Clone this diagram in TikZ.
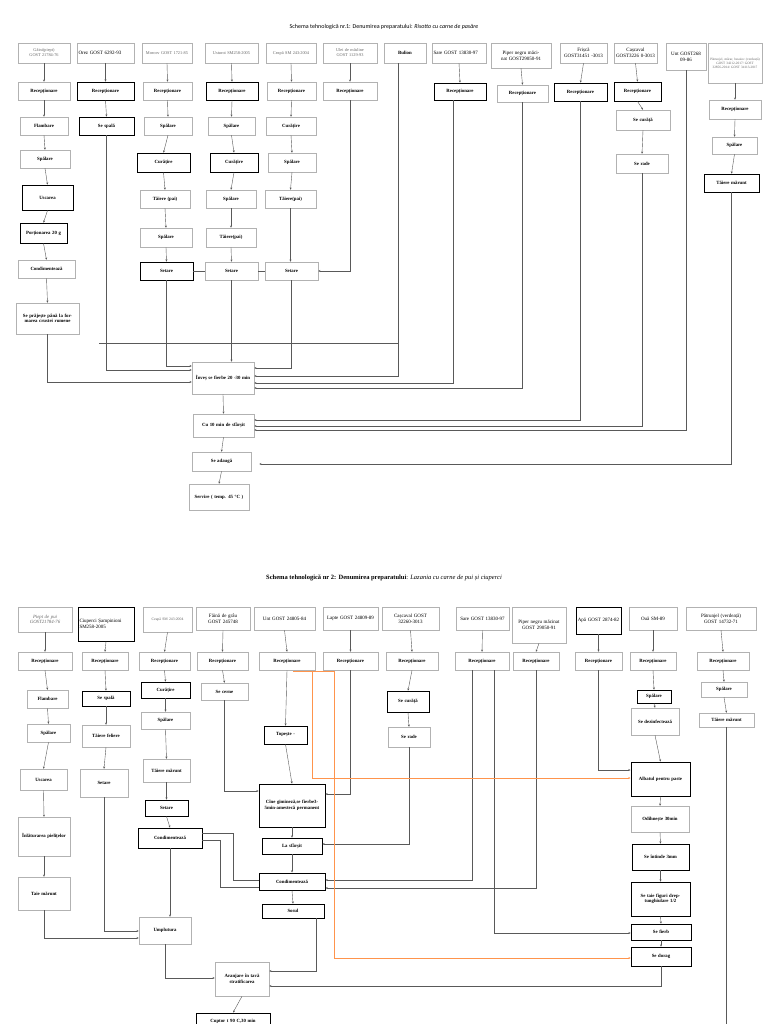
\documentclass[tikz,border=0pt]{standalone}
\usepackage{fontspec}
\setmainfont{Liberation Serif}
\newfontfamily\carl{Carlito}
\usetikzlibrary{arrows.meta}
\newcommand\B[7][]{%
\pgfmathsetmacro\cx{(#3+#5)/2}\pgfmathsetmacro\cy{(#4+#6)/2}%
\pgfmathsetmacro\ww{#5-#3}\pgfmathsetmacro\hh{#6-#4}\pgfmathsetmacro\tw{#5-#3-3}%
\node[box,minimum width=\ww pt,minimum height=\hh pt,text width=\tw pt,#1] (#2) at (\cx,\cy) {#7};}
\tikzset{
box/.style={draw=gray!60,line width=0.5pt,inner sep=0.5pt,align=center,font=\fontsize{4.8}{5.5}\selectfont\bfseries},
ing/.style={font=\fontsize{4.3}{5}\selectfont,text=gray!80!black},
ing2/.style={font=\fontsize{5}{5.8}\selectfont},
tk/.style={draw=black,line width=0.8pt},
ar/.style={draw=gray!70!black,line width=0.4pt,-{Stealth[length=2.2pt,width=2pt]}},
ln/.style={draw=gray!70!black,line width=0.4pt},
or/.style={draw=orange!80!red!70,line width=0.4pt},
}
\begin{document}
\begin{tikzpicture}[x=1pt,y=-1pt]
\useasboundingbox[fill=white] (0,0) rectangle (768,1024);
\node[font=\carl\fontsize{6}{7}\selectfont] (t1) at (384,27) {Schema tehnologică nr.1: Denumirea preparatului: \textit{Risotto cu carne de pasăre}};
% chart 1 ingredients
\B[ing]{g0}{18}{43}{70}{63}{Găini(piept) GOST 21784-76}
\B[ing2,align=left]{o0}{77}{43}{134}{63}{Orez GOST 6292-93}
\B[ing]{m0}{142}{43}{192}{63}{Morcov GOST 1721-85}
\B[ing]{u0}{205}{43}{258}{63}{Usturoi SM258-2005}
\B[ing]{c0}{266}{43}{316}{63}{Ceapă SM 243:2004}
\B[ing]{ul0}{323}{43}{377}{63}{Ulei de măsline GOST 1129-93}
\B{b0}{384}{43}{426}{63}{Bulion}
\B[ing2,align=left]{s0}{432}{43}{486}{63}{Sare GOST 13830-97}
\B[ing2]{p0}{491}{43}{551}{68}{Piper negru măcinat GOST29050-91}
\B[ing2]{f0}{560}{43}{607}{63}{Frișcă GOST31451 -3013}
\B[ing2]{k0}{614}{43}{657}{63}{Cașcaval GOST3226 0-3013}
\B[ing2]{un0}{666}{43}{706}{70}{Unt GOST268 09-86}
\B[ing,font=\fontsize{3.4}{4}\selectfont]{pt0}{708}{43}{762}{83}{Pătrunjel, mărar, busuioc (verdeață) GOST 34212-2017/ GOST 32856-2014/ GOST 34113-2017}
% recep row
\B{g1}{18}{82}{70}{100}{Recepționare}
\B[tk]{o1}{77}{82}{134}{100}{Recepționare}
\B{m1}{143}{82}{192}{100}{Recepționare}
\B[tk]{u1}{206}{82}{258}{100}{Recepționare}
\B{c1}{267}{82}{316}{100}{Recepționare}
\B{ul1}{323}{82}{377}{100}{Recepționare}
\B[tk]{s1}{434}{83}{486}{100}{Recepționare}
\B{p1}{497}{85}{548}{102}{Recepționare}
\B[tk]{f1}{554}{83}{607}{101}{Recepționare}
\B[tk]{k1}{614}{82}{661}{101}{Recepționare}
\B{pt1}{709}{100}{761}{119}{Recepționare}
% col 1
\B{g2}{20}{117}{68}{135}{Flambare}
\B{g3}{20}{150}{70}{168}{Spălare}
\B[tk]{g4}{22}{185}{73}{210}{Uscarea}
\B[tk]{g5}{20}{223}{67}{243}{Porționarea 20 g}
\B{g6}{18}{260}{75}{278}{Condimentează}
\B{g7}{16}{303}{79}{334}{Se prăjește până la formarea crustei rumene}
\B[tk]{o2}{79}{117}{134}{135}{Se spală}
\B{m2}{144}{117}{192}{135}{Spălare}
\B[tk]{m3}{137}{153}{190}{172}{Curățire}
\B{m4}{140}{190}{190}{208}{Tăiere (pai)}
\B{m5}{140}{228}{192}{247}{Spălare}
\B[tk]{m6}{140}{262}{193}{280}{Setare}
\B{u2}{208}{117}{255}{135}{Spălare}
\B[tk]{u3}{210}{153}{258}{172}{Curățire}
\B{u4}{206}{190}{256}{208}{Spălare}
\B{u5}{206}{228}{256}{247}{Tăiere(pai)}
\B{u6}{205}{262}{258}{280}{Setare}
\B{c2}{266}{117}{316}{135}{Curățire}
\B{c3}{268}{153}{316}{172}{Spălare}
\B{c4}{265}{190}{316}{208}{Tăiere(pai)}
\B{c6}{265}{262}{318}{280}{Setare}
\B{k2}{616}{110}{670}{130}{Se curăță}
\B{k3}{616}{154}{668}{173}{Se rade}
\B{pt2}{712}{137}{757}{154}{Spălare}
\B[tk]{pt3}{704}{174}{759}{192}{Tăiere mărunt}
\B{inv}{192}{362}{254}{394}{Înveș se fierbe 20 -30 min}
\B{cu}{193}{414}{254}{437}{Cu 10 min de sfârșit}
\B{ad}{192}{452}{251}{471}{Se adaugă}
\B{sv}{189}{484}{249}{510}{Servire ( temp. 45 °C )}
% chart 1 arrows
\foreach \a/\b in {g0/g1,g1/g2,g2/g3,g3/g4,g4/g5,g5/g6,g6/g7,o0/o1,o1/o2,m0/m1,m1/m2,m2/m3,m3/m4,m4/m5,m5/m6,u0/u1,u1/u2,u2/u3,u3/u4,u4/u5,u5/u6,c0/c1,c1/c2,c2/c3,c3/c4,ul0/ul1,s0/s1,p0/p1,f0/f1,k0/k1,k1/k2,k2/k3,pt0/pt1,pt1/pt2,pt2/pt3,inv/cu,cu/ad,ad/sv}
  \draw[ar] (\a.south) -- (\b.north);
\draw[ar] (c4.south) -- (c4.south |- c6.north);
\draw[ln,line width=0.9pt] (m6.east) -- (u6.west);
\draw[ln] (u6.east) -- (c6.east -| c6.west);
\draw[ar] (ul1.south) -- (ul1.south |- c6.east) -- (c6.east);
\coordinate (h1) at (99,343); \coordinate (h2) at (398,343);
\draw[ln] (h1) -- (h2);
\draw[ar] (o2.south) -- (o2.south |- 0,370) -- (inv.west |- 0,370);
\draw[ar] (g7.south) -- (g7.south |- 0,382) -- (inv.west |- 0,382);
\draw[ar] (m6.south) -- (m6.south |- 0,366) -- (inv.west |- 0,366);
\draw[ar] (u6.south) -- (u6.south |- inv.north);
\draw[ar] (c6.south) -- (c6.south |- 0,368) -- (inv.east |- 0,368);
\draw[ar] ([xshift=-7pt]b0.south) -- ([xshift=-7pt]b0.south |- 0,376) -- (inv.east |- 0,376);
\draw[ar] ([xshift=-7pt]s1.south) -- ([xshift=-7pt]s1.south |- 0,383) -- (inv.east |- 0,383);
\draw[ar] (p1.south) -- (p1.south |- 0,388) -- (inv.east |- 0,388);
\draw[ar] (f1.south) -- (f1.south |- 0,420) -- (cu.east |- 0,420);
\draw[ar] (k3.south) -- (k3.south |- 0,426) -- (cu.east |- 0,426);
\draw[ar] (un0.south) -- (un0.south |- 0,430) -- (cu.east |- 0,430);
\draw[ar] (pt3.south) -- (pt3.south |- 0,464) -- ([xshift=8pt]ad.east |- 0,464);
% ===== chart 2
\node[font=\fontsize{6.5}{7.5}\selectfont] (t2) at (384,578) {\textbf{Schema tehnologică nr 2: Denumirea preparatului}: \textit{Lazania cu carne de pui și ciuperci}};
\B[ing,font=\fontsize{4.8}{5.6}\selectfont\itshape]{q0}{18}{607}{72}{632}{Piept de pui GOST21784-76}
\B[ing2,tk,align=left]{ci0}{78}{607}{134}{641}{Ciuperci Șampinioni SM258-2005}
\B[ing,font=\fontsize{3.8}{4.5}\selectfont]{ce0}{143}{607}{192}{632}{Ceapă SM 243:2004}
\B[ing2]{fa0}{196}{607}{250}{630}{Făină de grâu GOST 245748}
\B[ing2]{ut0}{254}{607}{315}{630}{Unt GOST 24805-84}
\B[ing2]{la0}{323}{607}{378}{630}{Lapte GOST 24809-89}
\B[ing2]{ka0}{382}{607}{439}{630}{Cașcaval GOST 32260-3013}
\B[ing2]{sa0}{456}{607}{509}{630}{Sare GOST 13830-97}
\B[ing2]{pi0}{512}{607}{566}{643}{Piper negru măcinat GOST 29050-91}
\B[ing2,tk]{ap0}{576}{607}{621}{634}{Apă GOST 2874-82}
\B[ing2]{ou0}{629}{607}{677}{630}{Ouă SM-89}
\B[ing2]{pa0}{686}{607}{756}{630}{Pătrunjel (verdeață) GOST 14732-71}
\B{q1}{18}{652}{72}{670}{Recepționare}
\B{ci1}{82}{652}{128}{670}{Recepționare}
\B{ce1}{139}{652}{190}{670}{Recepționare}
\B{fa1}{197}{652}{248}{670}{Recepționare}
\B{ut1}{259}{652}{315}{670}{Recepționare}
\B{la1}{323}{652}{378}{670}{Recepționare}
\B{ka1}{386}{652}{438}{670}{Recepționare}
\B{sa1}{455}{652}{509}{670}{Recepționare}
\B{pi1}{513}{652}{559}{670}{Recepționare}
\B{ap1}{575}{652}{622}{670}{Recepționare}
\B{ou1}{630}{652}{676}{670}{Recepționare}
\B{pa1}{697}{652}{749}{670}{Recepționare}
\B{q2}{27}{690}{68}{708}{Flambare}
\B{q3}{27}{724}{70}{742}{Spălare}
\B{q4}{20}{769}{67}{790}{Uscarea}
\B{q5}{18}{817}{70}{856}{Înlăturarea pielițelor}
\B{q6}{18}{877}{70}{910}{Taie mărunt}
\B[tk]{ci2}{82}{691}{130}{706}{Se spală}
\B{ci3}{82}{725}{130}{747}{Tăiere feliere}
\B{ci4}{80}{769}{128}{797}{Setare}
\B[tk]{ce2}{141}{682}{190}{698}{Curățire}
\B{ce3}{141}{712}{190}{729}{Spălare}
\B{ce4}{143}{759}{190}{782}{Tăiere mărunt}
\B[tk]{ce5}{145}{800}{188}{816}{Setare}
\B[tk]{cd1}{138}{828}{202}{848}{Condimentează}
\B{um}{139}{917}{191}{944}{Umplutura}
\B{fa2}{201}{683}{248}{700}{Se cerne}
\B[tk]{tp}{264}{726}{307}{744}{Topește -}
\B[tk]{cim}{259}{784}{325}{827}{Cîne gimineză,se fierbe3-5min-amestecă permanent}
\B[tk]{ls}{262}{838}{322}{854}{La sfârșit}
\B[tk,line width=1pt]{cd2}{259}{873}{325}{890}{Condimentează}
\B[tk]{so}{262}{904}{324}{918}{Sosul}
\B{arj}{215}{962}{269}{996}{Aranjare în tavă stratificarea}
\B[tk]{cup}{196}{1013}{270}{1030}{Cuptor t 90 C,30 min}
\B[tk]{ka2}{387}{691}{429}{712}{Se curăță}
\B{ka3}{388}{727}{430}{747}{Se rade}
\B[tk]{ou2}{637}{690}{671}{703}{Spălare}
\B{ou3}{631}{708}{679}{735}{Se dezinfectează}
\B[tk,line width=1pt]{alb}{631}{762}{690}{796}{Albatul pentru paste}
\B{odi}{631}{806}{689}{832}{Odihnește 30min}
\B[tk]{int}{632}{844}{689}{870}{Se întinde 3mm}
\B[tk]{fig}{631}{882}{690}{916}{Se taie figuri dreptunghiulare 1/2}
\B[tk]{fb}{631}{924}{691}{940}{Se fierb}
\B[tk]{dr}{631}{947}{691}{966}{Se dorag}
\B{pa2}{701}{682}{747}{697}{Spălare}
\B{pa3}{699}{713}{754}{727}{Tăiere mărunt}
\foreach \a/\b in {q0/q1,q1/q2,q2/q3,q3/q4,q4/q5,q5/q6,ci0/ci1,ci1/ci2,ci2/ci3,ci3/ci4,ce0/ce1,ce1/ce2,ce2/ce3,ce3/ce4,ce4/ce5,ce5/cd1,fa0/fa1,fa1/fa2,ut0/ut1,ut1/tp,tp/cim,la0/la1,ka0/ka1,ka1/ka2,ka2/ka3,sa0/sa1,pi0/pi1,ap0/ap1,ou0/ou1,ou1/ou2,ou2/ou3,ou3/alb,alb/odi,odi/int,int/fig,fig/fb,fb/dr,pa0/pa1,pa1/pa2,pa2/pa3,cim/ls,ls/cd2,cd2/so,arj/cup}
  \draw[ar] (\a.south) -- (\b.north);
\draw[ar] (cd1.south) -- (cd1.south |- um.north);
\draw[ar] (q6.south) -- (q6.south |- 0,938) -- (um.west |- 0,938);
\draw[ar] (ci4.south) -- (ci4.south |- 0,931) -- (um.west |- 0,931);
\draw[ar] (fa2.south) -- (fa2.south |- 0,791) -- (cim.west |- 0,791);
\draw[ar] (la1.south) -- (la1.south |- 0,794) -- (cim.east |- 0,794);
\draw[ar] (ka3.south) -- (ka3.south |- 0,844) -- (ls.east |- 0,844);
\draw[ln] (cd1.east |- 0,833) -- (233,833) -- (233,880) -- (cd2.west |- 0,880);
\draw[ln] (cd1.east |- 0,840) -- (220,840) -- (220,887) -- (cd2.west |- 0,887);
\draw[ar] ([xshift=-10pt]sa1.south) -- ([xshift=-10pt]sa1.south |- 0,880) -- (cd2.east |- 0,880);
\draw[ar] ([xshift=12pt]sa1.south) -- ([xshift=12pt]sa1.south |- 0,933) -- (fb.west |- 0,933);
\draw[ar,line width=0.6pt] (pi1.south) -- (pi1.south |- 0,888) -- (cd2.east |- 0,888);
\draw[ar] (ap1.south) -- (ap1.south |- 0,770) -- (alb.west |- 0,770);
\coordinate (pend) at (726,1024);
\draw[ln] (pa3.south) -- (pa3.south |- pend);
\coordinate (o1) at (293,671); \coordinate (o2) at (334,671); \coordinate (o3) at (312,671);
\draw[or] (o1) -- (o2);
\draw[or,-{Stealth[length=2.2pt,width=2pt]}] (o3) -- (o3 |- 0,778) -- (alb.west |- 0,778);
\draw[or,-{Stealth[length=2.2pt,width=2pt]}] (o2) -- (o2 |- 0,958) -- (dr.west |- 0,958);
\draw[ar] (um.south) -- (um.south |- 0,978) -- (arj.west |- 0,978);
\draw[ar] ([xshift=-8pt]so.south east) -- ([xshift=-8pt]so.south east |- 0,971) -- (arj.east |- 0,971);
\draw[ar] (dr.south) -- (dr.south |- 0,986) -- (arj.east |- 0,986);
\end{tikzpicture}
\end{document}
